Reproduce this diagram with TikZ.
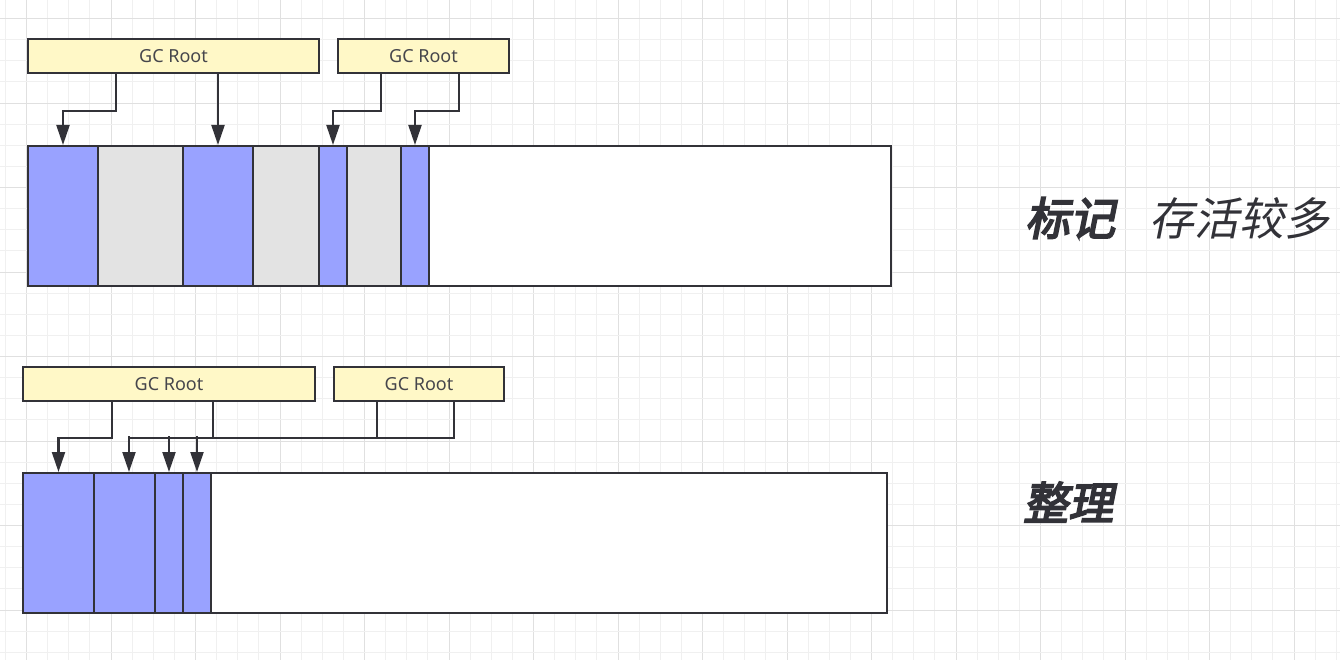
\documentclass[tikz,border=0pt]{standalone}
\usepackage{fontspec}
\setmainfont{Noto Sans}
\newfontfamily\cjkfont[FakeSlant=0.2]{Noto Sans CJK SC}
\newfontfamily\cjkboldfont[FakeSlant=0.2,FakeBold=4]{Noto Sans CJK SC}
\usepackage{tikz}
\usetikzlibrary{arrows.meta,calc,positioning}

\definecolor{liveblue}{RGB}{153,162,255}
\definecolor{deadgray}{RGB}{227,227,227}
\definecolor{rootyellow}{RGB}{255,248,199}
\definecolor{inkdark}{RGB}{50,50,56}

\begin{document}
\begin{tikzpicture}[x=1pt, y=-1pt,
    root/.style={draw=inkdark, line width=2pt, fill=rootyellow, minimum height=34pt, inner sep=0pt, text=inkdark!90, font=\fontsize{18}{21}\selectfont},
    cellbox/.style={draw=inkdark, line width=2pt, minimum height=140pt, inner sep=0pt, anchor=north west},
    link/.style={draw=inkdark, line width=2.2pt},
    arr/.style={link, -{Triangle[length=20pt,width=13pt]}}]
            \useasboundingbox (0,0) rectangle (1340,660);
            \fill[white] (0,0) rectangle (1340,660);

            % Grid paper
            \foreach \k in {0,...,63} {
                \pgfmathsetmacro{\gx}{5.4+\k*21.125}
                \pgfmathtruncatemacro{\shade}{mod(\k,4)==1 ? 12 : 6}
                \draw[black!\shade, line width=1pt] (\gx,0) -- (\gx,660);
            }
            \foreach \k in {0,...,31} {
                \pgfmathsetmacro{\gy}{-2.6+\k*21.125}
                \pgfmathtruncatemacro{\shade}{mod(\k,4)==1 ? 12 : 6}
                \draw[black!\shade, line width=1pt] (0,\gy) -- (1340,\gy);
            }

            % Mark phase
            \node[root, minimum width=291pt, anchor=north west] (rootA) at (27,38) {GC Root};
            \node[root, minimum width=171pt, right=17pt of rootA] (rootB) {GC Root};

            \node[cellbox, minimum width=863pt, fill=white] (heapA) at (27,145) {};
            \foreach \x/\w/\c [count=\i] in {27/70/liveblue, 97/85/deadgray, 182/70/liveblue, 252/66/deadgray,
                                             318/28/liveblue, 346/54/deadgray, 400/28/liveblue} {
                \node[cellbox, minimum width=\w pt, fill=\c] (c\i) at (\x,145) {};
            }

            \draw[arr] ($(rootA.south west)+(89,0)$) -- ++(0,37) -| (c1.north);
            \draw[arr] (rootA.south -| c3.north) -- (c3.north);
            \draw[arr] ($(rootB.south west)+(44,0)$) -- ++(0,37) -| (c5.north);
            \draw[arr] ($(rootB.south west)+(122,0)$) -- ++(0,37) -| (c7.north);

            \node[anchor=west, inner sep=0pt, text=inkdark, font=\cjkboldfont\fontsize{45}{50}\selectfont] (markLabel) at (1025,218) {标记};
            \node[right=34pt of markLabel, inner sep=0pt, text=inkdark, font=\cjkfont\fontsize{45}{50}\selectfont] (markNote) {存活较多};

            % Compact phase
            \node[root, minimum width=292pt, anchor=north west] (rootC) at (22,366) {GC Root};
            \node[root, minimum width=170pt, right=17pt of rootC] (rootD) {GC Root};

            \node[cellbox, minimum width=864pt, fill=white] (heapB) at (22,472) {};
            \foreach \x/\w [count=\i] in {22/71, 93/61, 154/28, 182/28} {
                \node[cellbox, minimum width=\w pt, fill=liveblue] (d\i) at (\x,472) {};
            }

            \coordinate (busL) at ($(d2.north)+(4.5,-36)$);
            \draw[arr] ($(rootC.south west)+(90,0)$) -- ++(0,36) -| (d1.north);
            \draw[link] ($(rootC.south west)+(191,0)$) -- ++(0,36);
            \draw[link] ($(rootD.south west)+(44,0)$) -- ++(0,36);
            \draw[arr] ($(rootD.south west)+(121,0)$) -- ++(0,36) -| (busL) -- (busL |- d2.north);
            \draw[arr] (d3.north |- busL) -- (d3.north);
            \draw[arr] (d4.north |- busL) -- (d4.north);

            \node[anchor=west, inner sep=0pt, text=inkdark, font=\cjkboldfont\fontsize{45}{50}\selectfont] (compactLabel) at (1023,502) {整理};
        \end{tikzpicture}
\end{document}
